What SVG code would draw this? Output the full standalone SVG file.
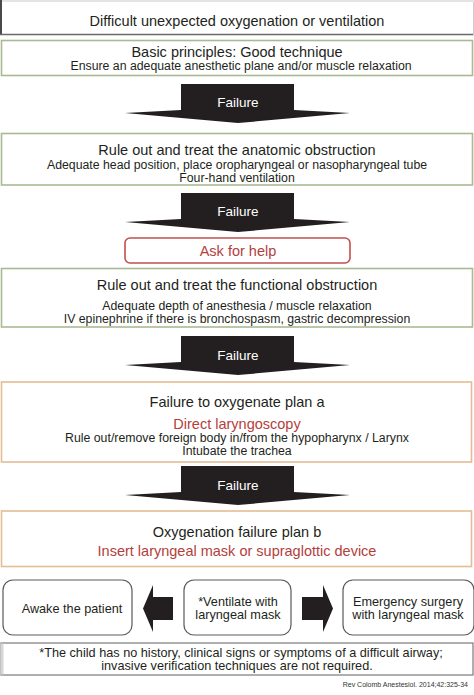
<svg xmlns="http://www.w3.org/2000/svg" xmlns:xlink="http://www.w3.org/1999/xlink" width="474" height="695" viewBox="0 0 474 695">
<style>
text{font-family:"Liberation Sans",Arial,sans-serif;fill:#231f20;text-anchor:middle}
.t{font-size:14.5px}
.s{font-size:12.3px}
.b{font-size:12.7px}
.r{fill:#b3403c}
.w{fill:#ffffff;font-size:13.5px}
.g{fill:#fff;stroke:#a9b993;stroke-width:1.6}
.o{fill:#fff;stroke:#e3bd95;stroke-width:1.6}
.rb{fill:#fff;stroke:#c0504d;stroke-width:1.6}
.gb{fill:#fff;stroke:#5a5a5a;stroke-width:1.2}
.ar{fill:#231f20}
.cite{font-size:7px;text-anchor:end;fill:#333}
</style>
<defs>
<path id="fail" d="M56,0 H169 V26 L225,29 L113,39 L0,29 L56,26 Z"/>
</defs>
<rect x="0" y="0" width="474" height="695" fill="#fff"/>

<g id="n_start">
<rect x="0" y="0" width="474" height="2.5" fill="#e4e4e4"/>
<rect x="1" y="2" width="472" height="32.5" fill="#fff" stroke="none"/>
<line x1="1" y1="0" x2="1" y2="35" stroke="#4a4a4a" stroke-width="2"/>
<line x1="0" y1="34.5" x2="474" y2="34.5" stroke="#6a6a6a" stroke-width="1.5"/>
<line x1="473.5" y1="2" x2="473.5" y2="35" stroke="#cfcfcf" stroke-width="1"/>
<text class="t" x="237" y="26">Difficult unexpected oxygenation or ventilation</text>
</g>

<g id="n_basic">
<rect class="g" x="1.5" y="40.5" width="471" height="35"/>
<text class="t" x="237" y="57">Basic principles: Good technique</text>
<text class="s" x="241" y="70">Ensure an adequate anesthetic plane and/or muscle relaxation</text>
</g>

<g id="n_anatomic">
<rect class="g" x="1.5" y="133.5" width="471" height="51.5"/>
<text class="t" x="237" y="155">Rule out and treat the anatomic obstruction</text>
<text class="s" x="237" y="169">Adequate head position, place oropharyngeal or nasopharyngeal tube</text>
<text class="s" x="237" y="182">Four-hand ventilation</text>
</g>

<g id="n_help">
<rect class="rb" x="125" y="238" width="225" height="25" rx="5"/>
<text class="t r" x="238" y="256">Ask for help</text>
</g>

<g id="n_functional">
<rect class="g" x="1.5" y="268.5" width="471" height="58.5"/>
<text class="t" x="237" y="290">Rule out and treat the functional obstruction</text>
<text class="s" x="237" y="310">Adequate depth of anesthesia / muscle relaxation</text>
<text class="s" x="237" y="323">IV epinephrine if there is bronchospasm, gastric decompression</text>
</g>

<g id="n_plana">
<rect class="o" x="1.5" y="382" width="470" height="80"/>
<text class="t" x="237" y="407">Failure to oxygenate plan a</text>
<text class="t r" x="237" y="429">Direct laryngoscopy</text>
<text class="s" x="237" y="442">Rule out/remove foreign body in/from the hypopharynx / Larynx</text>
<text class="s" x="237" y="455">Intubate the trachea</text>
</g>

<g id="n_planb">
<rect class="o" x="1.5" y="511" width="470" height="55.5"/>
<text class="t" x="237" y="537">Oxygenation failure plan b</text>
<text class="t r" x="237" y="556">Insert laryngeal mask or supraglottic device</text>
</g>

<g id="n_awake">
<rect class="gb" x="3" y="580" width="129" height="55" rx="10"/>
<text class="b" x="72" y="612.5">Awake the patient</text>
</g>

<g id="n_ventilate">
<rect class="gb" x="184" y="580" width="107" height="55" rx="10"/>
<text class="b" x="238" y="605.5">*Ventilate with</text>
<text class="b" x="238" y="618.5">laryngeal mask</text>
</g>

<g id="n_surgery">
<rect class="gb" x="343" y="580" width="131" height="55" rx="10"/>
<text class="b" x="408" y="605.5">Emergency surgery</text>
<text class="b" x="408" y="618.5">with laryngeal mask</text>
</g>

<g id="n_note">
<rect x="1" y="643" width="472" height="32" fill="#fff" stroke="#7a7a7a" stroke-width="1.2"/>
<line x1="2" y1="643.5" x2="2" y2="674.5" stroke="#d6d6d6" stroke-width="3"/>
<text class="b" x="241" y="657">*The child has no history, clinical signs or symptoms of a difficult airway;</text>
<text class="b" x="237" y="670">invasive verification techniques are not required.</text>
</g>

<g id="connectors">
<use xlink:href="#fail" class="ar" x="125" y="84"/>
<text class="w" x="238" y="107">Failure</text>
<use xlink:href="#fail" class="ar" x="125" y="193"/>
<text class="w" x="238" y="216">Failure</text>
<use xlink:href="#fail" class="ar" x="125" y="336"/>
<text class="w" x="238" y="360">Failure</text>
<use xlink:href="#fail" class="ar" x="125" y="466"/>
<text class="w" x="238" y="490">Failure</text>
<path class="ar" d="M173,597 H153 V585 L143,608.5 L153,632 V620 H173 Z"/>
<path class="ar" d="M302,597 H323 V585 L333,608.5 L323,632 V620 H302 Z"/>
</g>

<text class="cite" x="468" y="687">Rev Colomb Anestesiol. 2014;42:325-34</text>
</svg>
